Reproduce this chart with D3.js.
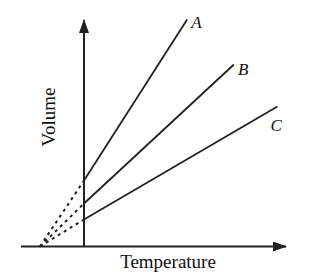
<!DOCTYPE html>
<html>
<head>
<meta charset="utf-8">
<script src="https://cdn.jsdelivr.net/npm/d3@7"></script>
<style>
  body { margin: 0; background: #fff; }
  text { font-family: "Liberation Serif", "DejaVu Serif", serif; fill: #111; }
</style>
</head>
<body>
<div id="chart"></div>
<script>
// lines of the V-T plot (arbitrary units), all meeting at T = -273
const lineNames = ["A", "B", "C"];
const volumeAtZero = [66, 43, 27];     // intercept on the volume axis (T = 0)
const endTemp = [640, 930, 1200];      // temperature where each line stops
const endVolume = [227, 182, 140];     // volume at that end point
const absZero = -273;

const width = 310, height = 277;

const svg = d3.select("#chart")
  .append("svg")
    .attr("width", width)
    .attr("height", height);

// scales: T=0 sits on the vertical axis, V=0 on the horizontal axis
const x = d3.scaleLinear()
  .domain([absZero, 0])
  .range([40, 84]);

const y = d3.scaleLinear()
  .domain([0, 100])
  .range([246.5, 146.5]);

svg.append("defs").append("marker")
    .attr("id", "arrow")
    .attr("viewBox", "0 0 14 10")
    .attr("refX", 13)
    .attr("refY", 5)
    .attr("markerWidth", 14)
    .attr("markerHeight", 10)
    .attr("markerUnits", "userSpaceOnUse")
    .attr("orient", "auto")
  .append("path")
    .attr("d", "M0,0 L14,5 L0,10 Z")
    .attr("fill", "#222");

// axes
svg.append("line")
    .attr("x1", 21).attr("y1", y(0))
    .attr("x2", 286).attr("y2", y(0))
    .attr("stroke", "#222").attr("stroke-width", 2)
    .attr("marker-end", "url(#arrow)");

svg.append("line")
    .attr("x1", x(0)).attr("y1", y(0))
    .attr("x2", x(0)).attr("y2", 20)
    .attr("stroke", "#222").attr("stroke-width", 2)
    .attr("marker-end", "url(#arrow)");

const data = lineNames.map((name, i) => ({
  name: name,
  v0: volumeAtZero[i],
  t1: endTemp[i],
  v1: endVolume[i]
}));

// dashed extrapolation down to absolute zero
svg.selectAll(".extrap")
  .data(data)
  .join("line")
    .attr("class", "extrap")
    .attr("x1", x(absZero)).attr("y1", y(0))
    .attr("x2", x(0)).attr("y2", d => y(d.v0))
    .attr("stroke", "#222")
    .attr("stroke-width", 2)
    .attr("stroke-dasharray", "3,4");

// measured part
svg.selectAll(".solid")
  .data(data)
  .join("line")
    .attr("class", "solid")
    .attr("x1", x(0)).attr("y1", d => y(d.v0))
    .attr("x2", d => x(d.t1)).attr("y2", d => y(d.v1))
    .attr("stroke", "#222")
    .attr("stroke-width", 1.8);

// line names
const labelOffset = { A: [4, 8], B: [4, 10], C: [-7, 24] };
svg.selectAll(".name")
  .data(data)
  .join("text")
    .attr("class", "name")
    .attr("x", d => x(d.t1) + labelOffset[d.name][0])
    .attr("y", d => y(d.v1) + labelOffset[d.name][1])
    .style("font-size", "17px")
    .style("font-style", "italic")
    .text(d => d.name);

svg.append("text")
    .attr("x", 168)
    .attr("y", 268)
    .attr("text-anchor", "middle")
    .style("font-size", "19px")
    .text("Temperature");

svg.append("text")
    .attr("transform", "translate(55, 117) rotate(-90)")
    .attr("text-anchor", "middle")
    .style("font-size", "19px")
    .text("Volume");
</script>
</body>
</html>
